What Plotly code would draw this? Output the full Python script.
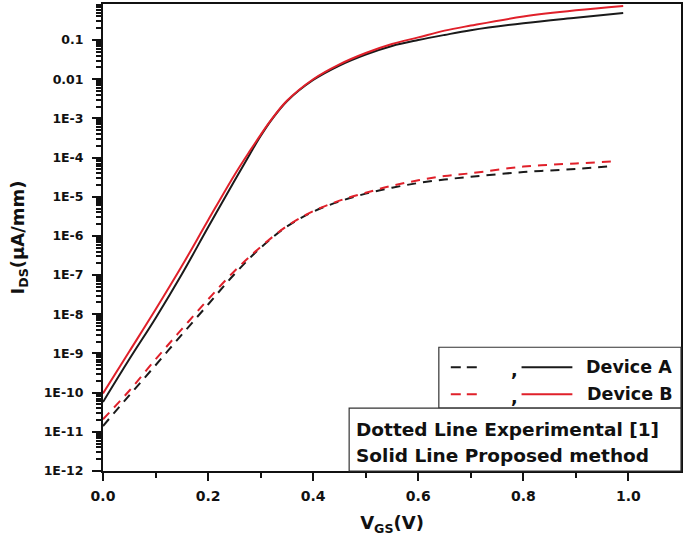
import plotly.graph_objects as go

# ---------------- data ----------------
vgs_sim = [0.0, 0.05, 0.1, 0.15, 0.2, 0.25, 0.28, 0.3, 0.32, 0.35, 0.4, 0.45,
           0.5, 0.55, 0.6, 0.65, 0.7, 0.8, 0.9, 0.99]
ids_sim_a = [5.75e-11, 7.08e-10, 7.94e-9, 1.05e-7, 1.66e-6, 2.51e-5, 1.26e-4, 3.55e-4,
             8.91e-4, 2.75e-3, 9.55e-3, 0.0224, 0.0427, 0.0708, 0.100, 0.135, 0.178,
             0.269, 0.372, 0.490]
ids_sim_b = [9.55e-11, 1.12e-9, 1.32e-8, 1.70e-7, 2.51e-6, 3.55e-5, 1.51e-4, 3.80e-4,
             9.12e-4, 2.82e-3, 0.0100, 0.0240, 0.0468, 0.0794, 0.117, 0.174, 0.234,
             0.398, 0.575, 0.741]

vgs_exp = [0.0, 0.05, 0.1, 0.15, 0.2, 0.25, 0.3, 0.35, 0.4, 0.45, 0.5, 0.55,
           0.6, 0.65, 0.7, 0.8, 0.9, 0.97]
ids_exp_a = [1.41e-11, 8.51e-11, 5.01e-10, 3.02e-9, 1.78e-8, 1.05e-7, 5.01e-7, 1.74e-6,
             4.17e-6, 7.59e-6, 1.20e-5, 1.70e-5, 2.24e-5, 2.75e-5, 3.24e-5, 4.27e-5,
             5.13e-5, 6.03e-5]
ids_exp_b = [2.09e-11, 1.12e-10, 7.08e-10, 4.17e-9, 2.40e-8, 1.26e-7, 5.25e-7, 1.78e-6,
             4.27e-6, 7.94e-6, 1.26e-5, 1.91e-5, 2.63e-5, 3.39e-5, 3.98e-5, 5.89e-5,
             7.08e-5, 7.94e-5]

y_tick_vals = [1e-12, 1e-11, 1e-10, 1e-9, 1e-8, 1e-7, 1e-6, 1e-5, 1e-4, 1e-3, 1e-2, 1e-1]
y_tick_text = ["1E-12", "1E-11", "1E-10", "1E-9", "1E-8", "1E-7", "1E-6", "1E-5",
               "1E-4", "1E-3", "0.01", "0.1"]
y_minor_vals = [k * v for v in y_tick_vals for k in range(2, 10)]

# ---------------- figure ----------------
W, H = 685, 546
L, R, T, B = 103, 2, 3, 75
PW, PH = W - L - R, H - T - B

def px(x):
    return (x - L) / PW

def py(y):
    return (H - B - y) / PH

FONT = "DejaVu Sans"
BLACK = "#1a1a1a"
RED = "#e0202a"

fig = go.Figure()
fig.add_trace(go.Scatter(x=vgs_exp, y=ids_exp_a, mode="lines", line_shape="spline",
                         line=dict(color=BLACK, width=2, dash="9px,7px"), showlegend=False))
fig.add_trace(go.Scatter(x=vgs_exp, y=ids_exp_b, mode="lines", line_shape="spline",
                         line=dict(color=RED, width=2, dash="9px,7px"), showlegend=False))
fig.add_trace(go.Scatter(x=vgs_sim, y=ids_sim_a, mode="lines", line_shape="spline",
                         line=dict(color=BLACK, width=2), showlegend=False))
fig.add_trace(go.Scatter(x=vgs_sim, y=ids_sim_b, mode="lines", line_shape="spline",
                         line=dict(color=RED, width=2), showlegend=False))

fig.update_xaxes(range=[0, 1.1], tickmode="array",
                 tickvals=[0.0, 0.2, 0.4, 0.6, 0.8, 1.0],
                 ticktext=["0.0", "0.2", "0.4", "0.6", "0.8", "1.0"],
                 ticks="outside", ticklen=8, tickwidth=2, tickcolor="#111",
                 ticklabelstandoff=3,
                 minor=dict(tickmode="array", tickvals=[0.1, 0.3, 0.5, 0.7, 0.9],
                            ticks="outside", ticklen=5, tickwidth=2, tickcolor="#111"),
                 showline=True, linewidth=2, linecolor="#111", mirror=True,
                 showgrid=False, zeroline=False,
                 tickfont=dict(family=FONT, size=14, color="#111", weight="bold"),
                 title=dict(text="V<sub>GS</sub>(V)", font=dict(family=FONT, size=18, color="#111", weight="bold"),
                            standoff=14))
fig.update_yaxes(type="log", range=[-12, -0.08], tickmode="array",
                 tickvals=y_tick_vals, ticktext=y_tick_text,
                 ticks="outside", ticklen=9, tickwidth=2, tickcolor="#111",
                 ticklabelstandoff=6,
                 minor=dict(tickmode="array", tickvals=y_minor_vals,
                            ticks="outside", ticklen=5, tickwidth=1.5, tickcolor="#111"),
                 showline=True, linewidth=2, linecolor="#111", mirror=True,
                 showgrid=False, zeroline=False,
                 tickfont=dict(family=FONT, size=12.5, color="#111", weight="bold"),
                 title=dict(text="I<sub>DS</sub>(μA/mm)", font=dict(family=FONT, size=18, color="#111", weight="bold"),
                            standoff=14))

# legend-like boxes
box_line = dict(color="#333", width=1.2)
fig.add_shape(type="rect", xref="paper", yref="paper", x0=px(440), x1=px(683),
              y0=py(408), y1=py(347), line=box_line, fillcolor="white", layer="above")
fig.add_shape(type="rect", xref="paper", yref="paper", x0=px(350), x1=px(683),
              y0=py(471), y1=py(408), line=box_line, fillcolor="white", layer="above")

dev_font = dict(family=FONT, size=17.5, color="#111", weight="bold")
note_font = dict(family=FONT, size=18.5, color="#111", weight="bold")
rows = [(367, BLACK, "Device A"), (394, RED, "Device B")]
for yy, col, label in rows:
    fig.add_shape(type="line", xref="paper", yref="paper", x0=px(452), x1=px(482),
                  y0=py(yy), y1=py(yy), line=dict(color=col, width=2, dash="10px,6px"), layer="above")
    fig.add_shape(type="line", xref="paper", yref="paper", x0=px(523), x1=px(574),
                  y0=py(yy), y1=py(yy), line=dict(color=col, width=2), layer="above")
    fig.add_annotation(xref="paper", yref="paper", x=px(516), y=py(yy + 3), text=",",
                       xanchor="center", yanchor="middle",
                       showarrow=False, font=dev_font)
    fig.add_annotation(xref="paper", yref="paper", x=px(676), y=py(yy), xanchor="right",
                       yanchor="middle", text=label, showarrow=False, font=dev_font)

for yy, label in [(429, "Dotted Line Experimental [1]"), (455, "Solid Line Proposed method")]:
    fig.add_annotation(xref="paper", yref="paper", x=px(355), y=py(yy), xanchor="left",
                       yanchor="middle", text=label, showarrow=False, font=note_font)

fig.update_layout(width=W, height=H, margin=dict(l=L, r=R, t=T, b=B),
                  plot_bgcolor="white", paper_bgcolor="white",
                  font=dict(family=FONT, color="#111"))

fig.write_html("out.html")
